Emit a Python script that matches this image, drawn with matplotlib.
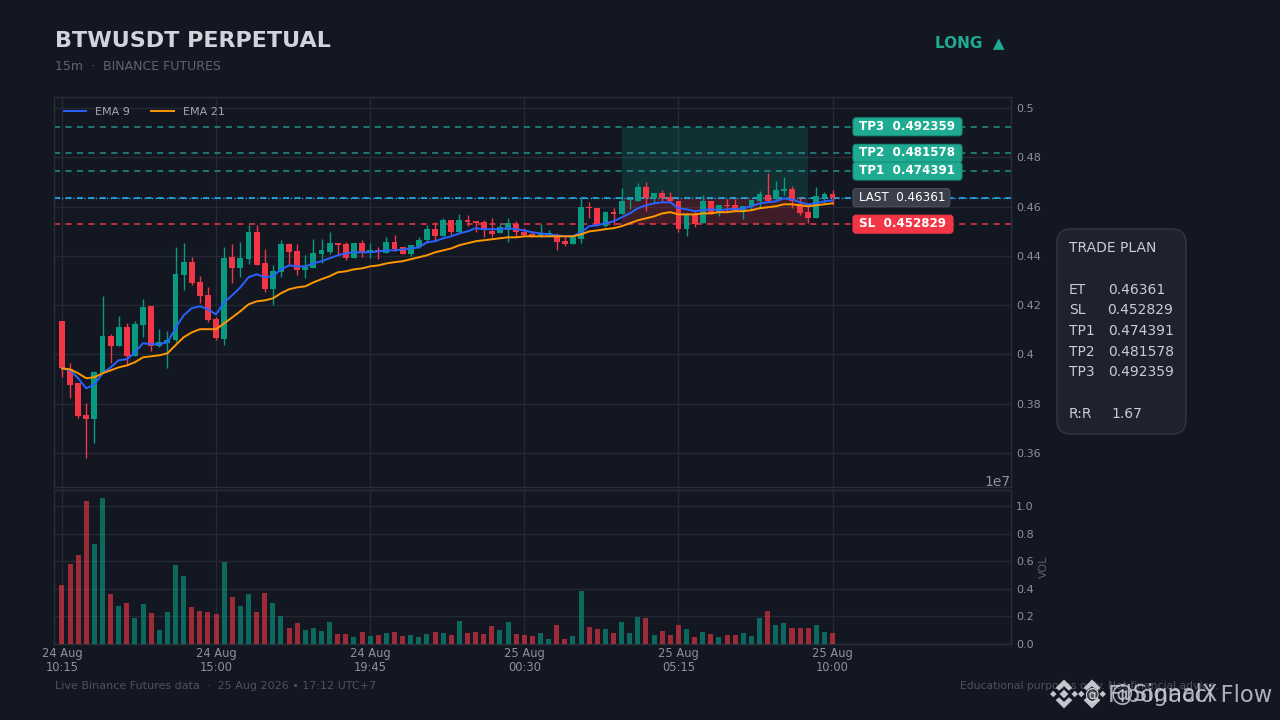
import matplotlib
matplotlib.use("Agg")
import matplotlib.pyplot as plt
from matplotlib.patches import Rectangle, FancyBboxPatch, Polygon, Circle
from matplotlib.ticker import FuncFormatter, FixedLocator

opens = [.4134,.3939,.3882,.3752,.3736,.3923,.4073,.4032,.4110,.3992,.4118,.4195,.4032,.4045,.4057,.4321,.4374,.4292,.4240,.4142,
         .4061,.4394,.4349,.4386,.4495,.4369,.4264,.4333,.4447,.4418,.4341,.4349,.4406,.4414,.4451,.4447,.4390,.4451,.4410,.4422,
         .4410,.4455,.4434,.4406,.4434,.4463,.4508,.4479,.4544,.4495,.4544,.4540,.4536,.4499,.4491,.4503,.4528,.4495,.4487,.4479,
         .4483,.4483,.4459,.4447,.4467,.4597,.4593,.4520,.4577,.4568,.4625,.4621,.4678,.4633,.4654,.4637,.4621,.4508,.4568,.4532,
         .4621,.4577,.4605,.4605,.4581,.4601,.4621,.4646,.4629,.4662,.4670,.4605,.4577,.4552,.4637,.4650]
highs = [.4134,.3963,.3882,.3801,.3931,.4235,.4081,.4154,.4126,.4134,.4223,.4195,.4102,.4093,.4434,.4451,.4394,.4317,.4272,.4150,
         .4434,.4447,.4455,.4524,.4524,.4426,.4361,.4463,.4451,.4447,.4402,.4467,.4467,.4495,.4451,.4455,.4451,.4463,.4451,.4434,
         .4475,.4483,.4434,.4443,.4475,.4524,.4536,.4552,.4544,.4568,.4564,.4540,.4544,.4552,.4532,.4552,.4540,.4512,.4499,.4528,
         .4503,.4491,.4475,.4483,.4633,.4617,.4593,.4581,.4593,.4674,.4633,.4694,.4698,.4654,.4666,.4658,.4621,.4572,.4581,.4646,
         .4621,.4605,.4629,.4629,.4601,.4625,.4662,.4735,.4702,.4719,.4682,.4637,.4605,.4678,.4658,.4666]
lows = [.3907,.3821,.3740,.3578,.3639,.3923,.3963,.4032,.3951,.3992,.4069,.4012,.4028,.3943,.4049,.4260,.4280,.4207,.4130,.4057,
        .4037,.4288,.4313,.4365,.4361,.4252,.4199,.4313,.4361,.4321,.4309,.4349,.4369,.4406,.4402,.4382,.4390,.4394,.4390,.4386,
        .4410,.4418,.4406,.4398,.4430,.4451,.4463,.4479,.4483,.4495,.4520,.4495,.4475,.4475,.4491,.4455,.4475,.4479,.4475,.4475,
        .4479,.4422,.4438,.4447,.4451,.4552,.4520,.4516,.4524,.4568,.4589,.4621,.4581,.4617,.4617,.4617,.4495,.4479,.4516,.4532,
        .4568,.4560,.4577,.4577,.4548,.4589,.4593,.4617,.4625,.4646,.4593,.4564,.4532,.4552,.4613,.4605]
closes = [.3943,.3874,.3748,.3736,.3927,.4073,.4032,.4110,.3992,.4122,.4191,.4032,.4049,.4057,.4325,.4374,.4288,.4235,.4138,.4065,
          .4390,.4349,.4390,.4495,.4361,.4264,.4337,.4447,.4414,.4341,.4353,.4410,.4422,.4451,.4443,.4390,.4451,.4414,.4422,.4414,
          .4455,.4426,.4406,.4443,.4463,.4508,.4479,.4544,.4495,.4544,.4536,.4532,.4503,.4487,.4516,.4532,.4495,.4483,.4479,.4487,
          .4491,.4455,.4447,.4475,.4597,.4593,.4528,.4577,.4568,.4621,.4629,.4678,.4633,.4654,.4633,.4621,.4508,.4568,.4528,.4621,
          .4568,.4605,.4601,.4577,.4601,.4625,.4650,.4621,.4666,.4670,.4621,.4572,.4552,.4641,.4650,.4636]
ema9 = [.3943,.3935,.3903,.3862,.3878,.3923,.3947,.3976,.3980,.4008,.4045,.4041,.4041,.4049,.4106,.4158,.4187,.4195,.4183,.4162,
        .4211,.4240,.4272,.4313,.4325,.4313,.4317,.4345,.4361,.4357,.4357,.4369,.4378,.4390,.4402,.4410,.4414,.4414,.4414,.4418,
        .4422,.4422,.4426,.4430,.4434,.4455,.4459,.4471,.4479,.4491,.4499,.4512,.4508,.4508,.4508,.4512,.4508,.4503,.4495,.4491,
        .4487,.4483,.4479,.4479,.4495,.4520,.4524,.4532,.4540,.4556,.4572,.4593,.4605,.4613,.4617,.4617,.4593,.4589,.4581,.4585,
        .4589,.4585,.4589,.4589,.4593,.4601,.4613,.4617,.4621,.4633,.4629,.4617,.4609,.4613,.4621,.4625]
ema21 = [.3943,.3939,.3923,.3903,.3907,.3923,.3935,.3947,.3955,.3968,.3988,.3992,.3996,.4004,.4037,.4069,.4089,.4102,.4102,.4102,
         .4126,.4150,.4175,.4203,.4215,.4219,.4227,.4248,.4264,.4272,.4276,.4292,.4305,.4317,.4333,.4337,.4345,.4349,.4357,.4361,
         .4369,.4374,.4378,.4386,.4394,.4402,.4414,.4422,.4430,.4443,.4451,.4459,.4463,.4467,.4471,.4475,.4475,.4479,.4479,.4479,
         .4479,.4479,.4479,.4479,.4487,.4499,.4503,.4508,.4512,.4520,.4532,.4544,.4552,.4560,.4572,.4577,.4568,.4568,.4568,.4572,
         .4572,.4577,.4577,.4581,.4581,.4585,.4593,.4597,.4601,.4609,.4609,.4605,.4601,.4605,.4609,.4613]
volumes_1e7 = [.427,.578,.643,1.034,.723,1.056,.361,.275,.296,.188,.289,.224,.101,.231,.571,.492,.268,.239,.231,.217,
               .593,.340,.275,.361,.231,.369,.296,.202,.116,.152,.101,.116,.094,.159,.072,.072,.051,.087,.058,.065,
               .080,.087,.058,.065,.051,.072,.087,.080,.065,.166,.080,.087,.072,.130,.101,.159,.072,.065,.058,.080,
               .036,.137,.036,.058,.383,.123,.108,.108,.080,.159,.080,.193,.190,.065,.094,.065,.137,.108,.051,.087,
               .072,.051,.065,.065,.080,.058,.188,.239,.137,.152,.116,.116,.116,.137,.087,.080]
tick_idx = [0, 19, 38, 57, 76, 95]
tick_labels = ["24 Aug\n10:15", "24 Aug\n15:00", "24 Aug\n19:45", "25 Aug\n00:30", "25 Aug\n05:15", "25 Aug\n10:00"]
price_ticks = [.36, .38, .40, .42, .44, .46, .48, .50]
vol_ticks = [0, .2e7, .4e7, .6e7, .8e7, 1.0e7]

ET, SL, TP1, TP2, TP3 = 0.46361, 0.452829, 0.474391, 0.481578, 0.492359
LAST = 0.46361
zone_start, zone_end = 69, 92

BG = "#131722"; GRID = "#252933"; SPINE = "#2a2e39"; TICK = "#8d919c"
UP = "#089981"; DOWN = "#F23645"; TPC = "#26a69a"; TPBOX = "#1fab91"

W, H = 1280, 720
fig = plt.figure(figsize=(W/100, H/100), dpi=100, facecolor=BG)
def axpx(l, t, r, b):
    return fig.add_axes([l/W, 1-b/H, (r-l)/W, (b-t)/H], facecolor=BG)
def ftext(x, y, s, **k):
    return fig.text(x/W, 1-y/H, s, **k)

ax = axpx(54, 97, 1011, 487)
vx = axpx(54, 490, 1011, 644)
XL = (-0.98, 117.0)

for a in (ax, vx):
    a.set_xlim(*XL)
    a.set_axisbelow(True)
    a.grid(True, color=GRID, lw=1.0)
    for s in a.spines.values():
        s.set_color(SPINE); s.set_linewidth(1.0)
    a.xaxis.set_major_locator(FixedLocator(tick_idx))
    a.yaxis.tick_right()
    a.tick_params(length=0, colors=TICK, labelsize=8)

ax.set_ylim(0.34615, 0.50445)
ax.set_yticks(price_ticks)
ax.yaxis.set_major_formatter(FuncFormatter(lambda v, _: f"{v:g}"))
ax.tick_params(axis="x", labelbottom=False)

# zones
ax.add_patch(Rectangle((zone_start, ET), zone_end-zone_start, TP3-ET, fc=UP, alpha=0.2, ec="none", zorder=1))
ax.add_patch(Rectangle((zone_start, SL), zone_end-zone_start, ET-SL, fc=DOWN, alpha=0.2, ec="none", zorder=1))

# levels
for lv in (TP1, TP2, TP3):
    ax.axhline(lv, color=TPC, lw=1.1, ls=(0, (4, 3.5)), zorder=2, alpha=0.85)
ax.axhline(SL, color=DOWN, lw=1.1, ls=(0, (4, 3.5)), zorder=2)
ax.axhline(ET, color="#29b6f6", lw=1.1, ls=(0, (4, 3.5)), zorder=2)
ax.axhline(LAST, color="#29b6f6", lw=0.9, ls=(0, (1, 2)), zorder=2)

# candles
for i, (o, h, l, c) in enumerate(zip(opens, highs, lows, closes)):
    col = UP if c >= o else DOWN
    ax.vlines(i, l, h, color=col, lw=1.0, zorder=3)
    ax.add_patch(Rectangle((i-0.36, min(o, c)), 0.72, abs(c-o), fc=col, ec="none", zorder=3))

xs = list(range(len(closes)))
ax.plot(xs, ema9, color="#2962ff", lw=1.4, label="EMA 9", zorder=4)
ax.plot(xs, ema21, color="#ff9800", lw=1.4, label="EMA 21", zorder=4)
leg = ax.legend(loc="upper left", ncol=2, frameon=False, fontsize=8, labelcolor="#a3a7b1",
                bbox_to_anchor=(0.002, 0.995), borderaxespad=0.3, handlelength=2.05, columnspacing=1.9, handletextpad=0.8)

# volume
vcols = [UP if c >= o else DOWN for o, c in zip(opens, closes)]
vx.bar(xs, [v*1e7 for v in volumes_1e7], width=0.62, color=vcols, alpha=0.62, zorder=3, lw=0)
vx.set_ylim(0, 1.116e7)
vx.set_yticks(vol_ticks)
vx.set_xticks(tick_idx)
vx.set_xticklabels(tick_labels, color=TICK, fontsize=8.3, linespacing=1.03)
vx.tick_params(axis="x", pad=2.5)
vx.yaxis.get_offset_text().set_color(TICK)
vx.yaxis.get_offset_text().set_fontsize(10)
vx.yaxis.set_label_position("right")
vx.set_ylabel("VOL", color="#5a5f6b", fontsize=8, labelpad=3.5)

# header / footer
ftext(55, 47, "BTWUSDT PERPETUAL", color="#d1d4dc", fontsize=16, fontweight="bold", va="baseline")
ftext(55, 70, "15m  ·  BINANCE FUTURES", color="#5f6470", fontsize=9, va="baseline")
ftext(1005, 47, "LONG  ▲", color="#1fab91", fontsize=11, fontweight="bold", ha="right", va="baseline")
ftext(55, 689, "Live Binance Futures data  ·  25 Aug 2026 • 17:12 UTC+7", color="#4e525d", fontsize=8, va="baseline")
ftext(1219, 689, "Educational purposes only. Not financial advice.", color="#4e525d", fontsize=7.75, ha="right", va="baseline")

# overlay axes in pixel units
bgax = fig.add_axes([0, 0, 1, 1], facecolor="none", zorder=5)
bgax.set_xlim(0, W); bgax.set_ylim(H, 0); bgax.axis("off")

# level labels
def lab(price, s, width, fc, ec, bold=True):
    yp = H - ax.transData.transform((0, price))[1]
    bgax.add_patch(FancyBboxPatch((853, yp-9), width, 18, boxstyle="round,pad=0,rounding_size=3",
                                  fc=fc, ec=ec, lw=0.8))
    bgax.text(859, yp-0.5, s, color="#ffffff", fontsize=8.6, va="center", ha="left",
              fontweight="bold" if bold else "normal")
lab(TP3, "TP3  0.492359", 109, TPBOX, "#178f79")
lab(TP2, "TP2  0.481578", 109, TPBOX, "#178f79")
lab(TP1, "TP1  0.474391", 109, TPBOX, "#178f79")
lab(LAST, "LAST  0.46361", 97, "#3b3f4c", "#4a4e5c", bold=False)
lab(SL, "SL  0.452829", 100, DOWN, DOWN)

# trade plan card
bgax.add_patch(FancyBboxPatch((1057, 229), 129, 205, boxstyle="round,pad=0,rounding_size=14",
                              fc="#1e222d", ec="#2f333f", lw=1.2))
rows = [("TRADE PLAN", "", 248), ("ET", "0.46361", 290), ("SL", "0.452829", 310), ("TP1", "0.474391", 331),
        ("TP2", "0.481578", 352), ("TP3", "0.492359", 372), ("R:R", "1.67", 414)]
cols = {"ET": 1108, "SL": 1107, "TP1": 1108, "TP2": 1108, "TP3": 1108, "R:R": 1111}
for a, b, y in rows:
    bgax.text(1069, y, a, color="#c9ccd4", fontsize=10, va="center")
    if b:
        bgax.text(cols[a], y, b, color="#c9ccd4", fontsize=10, va="center")

# watermark logos
def logo(cx, cy, r, col):
    u = r/6.0
    def dia(x, y, s):
        bgax.add_patch(Polygon([(x, y-s), (x+s, y), (x, y+s), (x-s, y)], fc=col, ec="none", alpha=0.95))
    dia(cx, cy, 1.9*u); dia(cx-4.6*u, cy, 1.4*u); dia(cx+4.6*u, cy, 1.4*u)
    for sgn in (-1, 1):
        bgax.add_patch(Polygon([(cx-3.6*u, cy+sgn*2.6*u), (cx, cy+sgn*6.2*u), (cx+3.6*u, cy+sgn*2.6*u),
                                (cx+2.1*u, cy+sgn*1.4*u), (cx, cy+sgn*3.4*u), (cx-2.1*u, cy+sgn*1.4*u)],
                               fc=col, ec="none", alpha=0.95))
logo(1064, 694, 14, "#cdd0d7")
logo(1092, 694, 14, "#cdd0d7")
bgax.add_patch(Circle((1092, 694), 6.5, fc="#3a3e49", ec="none", alpha=0.8))
bgax.text(1092, 694, "@", color="#d6d8de", fontsize=10.5, ha="center", va="center")
bgax.text(1108, 695, "Fibonacci Flow", color="#c8ccd4", fontsize=16.3, va="center", alpha=0.85)
bgax.text(1110, 695, "@SignalX", color="#c8ccd4", fontsize=16.3, va="center", alpha=0.85)

fig.savefig("out.png", dpi=100, facecolor=BG)
